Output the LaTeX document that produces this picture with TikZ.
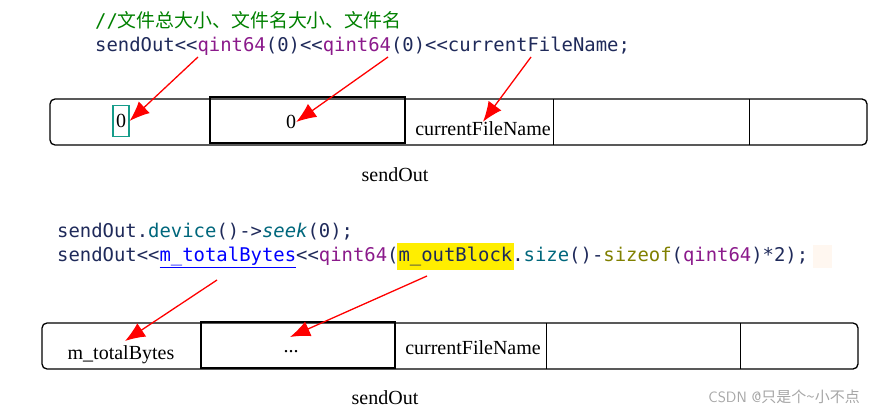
\documentclass[tikz,border=0pt]{standalone}
\usepackage{fontspec}
\setmainfont{Liberation Serif}
\setmonofont{DejaVu Sans Mono}
\newfontfamily\cjk{Noto Sans CJK SC}
\usepackage{xcolor}
\definecolor{cnavy}{HTML}{1F2A5A}
\definecolor{cpurp}{HTML}{8B1A8B}
\definecolor{cteal}{HTML}{00677C}
\definecolor{colive}{HTML}{808000}
\definecolor{cgreen}{HTML}{008000}
\definecolor{cblue}{HTML}{0000FF}
\definecolor{hl}{HTML}{FFEE00}
\definecolor{boxteal}{HTML}{169C8A}
\begin{document}
\begin{tikzpicture}[x=1pt,y=-1pt,
  code/.style={anchor=west,inner sep=0pt,font=\ttfamily\fontsize{18.9}{20}\selectfont,text=cnavy},
  lbl/.style={inner sep=0pt,font=\fontsize{20}{22}\selectfont},
  redarrow/.style={red,line width=1.3pt,-{Latex[length=20pt,width=16pt]}},
  rowbox/.style={draw,line width=1.3pt,rounded corners=5pt},
  midcell/.style={draw,line width=1.8pt}]
\usetikzlibrary{arrows.meta}
\useasboundingbox (0,0) rectangle (875,417);
% ---- top
\node[code,text=cgreen] (cmt) at (95,20) {//{\cjk 文件总大小、文件名大小、文件名}};
\node[code] (c1) at (95,46) {sendOut<<\textcolor{cpurp}{qint64}(0)<<\textcolor{cpurp}{qint64}(0)<<currentFileName;};
\draw[rowbox] (50,99) rectangle (867,145);
\draw[line width=1pt] (553,99)--(553,145) (749,99)--(749,145);
\draw[midcell] (210,97) rectangle (405,143);
\node[lbl,draw=boxteal,line width=1.2pt,minimum width=16pt,minimum height=31pt] (z1) at (121,121) {0};
\node[lbl] (z2) at (291,122) {0};
\node[lbl] (cf1) at (483,129) {currentFileName};
\node[lbl] (so1) at (395,175) {sendOut};
\coordinate (a1) at (198,57); \coordinate (a2) at (388,57); \coordinate (a3) at (531,57);
\draw[redarrow] (a1) -- (z1.east);
\draw[redarrow] (a2) -- (z2.east);
\draw[redarrow] (a3) -- (cf1.north);
% ---- bottom
\fill[hl] (397,243) rectangle (514,270);
\fill[orange!6] (813,245) rectangle (832,268);
\node[code] (c2) at (57,232) {sendOut.\textcolor{cteal}{device}()->\textcolor{cteal}{\itshape seek}(0);};
\node[code] (c3) at (57,257) {sendOut<<\textcolor{cblue}{\underline{m\_totalBytes}}<<\textcolor{cpurp}{qint64}(\textcolor{cnavy}{m\_outBlock}.\textcolor{cteal}{size}()-\textcolor{colive}{sizeof}(\textcolor{cpurp}{qint64})*2);};
\draw[rowbox] (42,323) rectangle (858,369);
\draw[line width=1pt] (546,323)--(546,369) (740,323)--(740,369);
\draw[midcell] (201,322) rectangle (395,368);
\node[lbl] (tb) at (121,355) {m\_totalBytes};
\node[lbl] (dots) at (291,352) {...};
\node[lbl] (cf2) at (473,348) {currentFileName};
\node[lbl] (so2) at (385,398) {sendOut};
\node[font=\sffamily\fontsize{15}{16}\selectfont,text=gray!70,anchor=east,inner sep=0pt] (wm) at (860,397) {CSDN @{\cjk 只是个\textasciitilde 小不点}};
\coordinate (b1) at (217,280); \coordinate (b2) at (427,276);
\draw[redarrow] (b1) -- (125,341);
\draw[redarrow] (b2) -- (290,337);
\end{tikzpicture}
\end{document}
